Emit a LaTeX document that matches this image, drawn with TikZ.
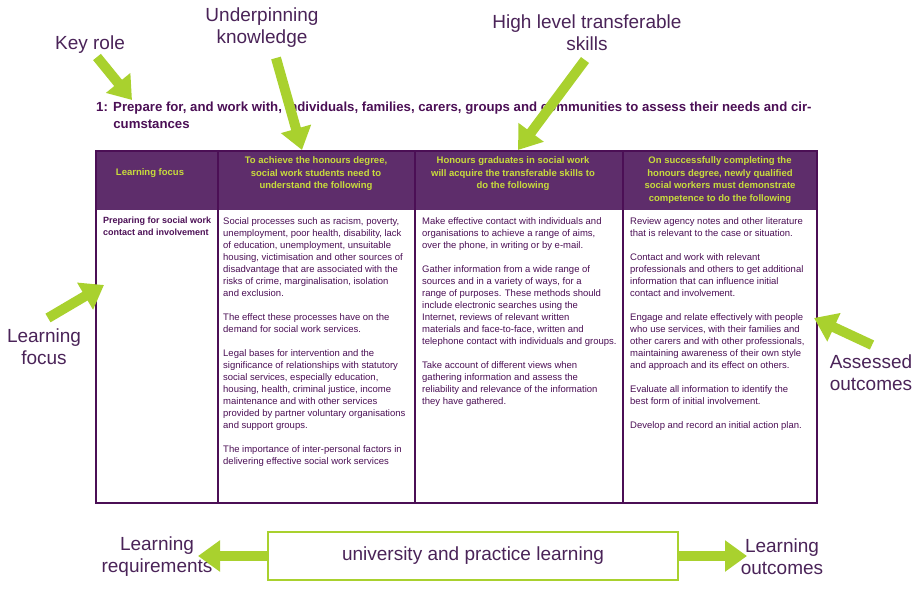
\documentclass[tikz,border=0pt]{standalone}
\usepackage{fontspec}
\setmainfont{Liberation Sans}
\usetikzlibrary{arrows.meta}
\definecolor{pdark}{HTML}{4B0F55}
\definecolor{phead}{HTML}{5E2D6B}
\definecolor{ytxt}{HTML}{C8DC3C}
\definecolor{garrow}{HTML}{A9D12E}
\definecolor{lbl}{HTML}{4A2358}
\begin{document}
\begin{tikzpicture}[x=1pt,y=-1pt,
  lab/.style={text=lbl,font=\fontsize{19}{22}\selectfont,align=center,inner sep=0},
  body/.style={anchor=north west,text=pdark,font=\fontsize{9.5}{12}\selectfont,align=left,inner sep=0},
  head/.style={text=ytxt,font=\bfseries\fontsize{9.5}{12.5}\selectfont,align=center,inner sep=0},
  garr/.style={garrow,line width=10,-{Triangle[length=22,width=30]}}]
\useasboundingbox (0,0) rectangle (919,589);
% table
\fill[phead] (96,151) rectangle (817,210);
\draw[pdark,line width=1.6] (96,151) rectangle (817,503);
\foreach \x in {218,415,623} \draw[pdark,line width=1.6] (\x,151) -- (\x,503);
\node[head] (h1) at (150,173) {Learning focus};
\node[head] (h2) at (316,174) {To achieve the honours degree,\\social work students need to\\understand the following};
\node[head] (h3) at (513,174) {Honours graduates in social work\\will acquire the transferable skills to\\do the following};
\node[head] (h4) at (720,180) {On successfully completing the\\honours degree, newly qualified\\social workers must demonstrate\\competence to do the following};
\node[body,font=\bfseries\fontsize{9}{12}\selectfont] (c1) at (103,217) {Preparing for social work\\contact and involvement};
\node[body] (c2) at (223,217) {Social processes such as racism, poverty,\\unemployment, poor health, disability, lack\\of education, unemployment, unsuitable\\housing, victimisation and other sources of\\disadvantage that are associated with the\\risks of crime, marginalisation, isolation\\and exclusion.\\[12pt]The effect these processes have on the\\demand for social work services.\\[12pt]Legal bases for intervention and the\\significance of relationships with statutory\\social services, especially education,\\housing, health, criminal justice, income\\maintenance and with other services\\provided by partner voluntary organisations\\and support groups.\\[12pt]The importance of inter-personal factors in\\delivering effective social work services};
\node[body] (c3) at (422,217) {Make effective contact with individuals and\\organisations to achieve a range of aims,\\over the phone, in writing or by e-mail.\\[12pt]Gather information from a wide range of\\sources and in a variety of ways, for a\\range of purposes. These methods should\\include electronic searches using the\\Internet, reviews of relevant written\\materials and face-to-face, written and\\telephone contact with individuals and groups.\\[12pt]Take account of different views when\\gathering information and assess the\\reliability and relevance of the information\\they have gathered.};
\node[body] (c4) at (630,217) {Review agency notes and other literature\\that is relevant to the case or situation.\\[12pt]Contact and work with relevant\\professionals and others to get additional\\information that can influence initial\\contact and involvement.\\[12pt]Engage and relate effectively with people\\who use services, with their families and\\other carers and with other professionals,\\maintaining awareness of their own style\\and approach and its effect on others.\\[12pt]Evaluate all information to identify the\\best form of initial involvement.\\[12pt]Develop and record an initial action plan.};
% title
\node[anchor=north west,text=pdark,font=\bfseries\fontsize{13.2}{17}\selectfont,align=left,inner sep=0] (title) at (96,102) {1:\hspace{0.4em}Prepare for, and work with, individuals, families, carers, groups and communities to assess their needs and cir-\\\hspace{1.3em}cumstances};
% labels
\node[lab] (kr) at (90,45) {Key role};
\node[lab] (uk) at (262,28) {Underpinning\\knowledge};
\node[lab] (hl) at (587,33) {High level transferable\\skills};
\node[lab] (lf) at (44,347) {Learning\\focus};
\node[lab] (ao) at (871,373) {Assessed\\outcomes};
\node[lab] (lr) at (157,557) {Learning\\requirements};
\node[lab] (lo) at (782,557) {Learning\\outcomes};
\node[draw=garrow,line width=1.5,minimum width=410,minimum height=48,text=lbl,font=\fontsize{19}{22}\selectfont] (box) at (473,556) {university and practice learning};
% arrow anchors
\coordinate (a1s) at (97,57); \coordinate (a1e) at (132,100);
\coordinate (a2s) at (276,58); \coordinate (a2e) at (302,150);
\coordinate (a3s) at (585,60); \coordinate (a3e) at (518,150);
\coordinate (a4s) at (48,318); \coordinate (a4e) at (104,285);
\coordinate (a5s) at (872,345); \coordinate (a5e) at (814,318);
\coordinate (a6e) at (198,556); \coordinate (a7e) at (747,556);
\draw[garr] (a1s) -- (a1e);
\draw[garr] (a2s) -- (a2e);
\draw[garr] (a3s) -- (a3e);
\draw[garr] (a4s) -- (a4e);
\draw[garr] (a5s) -- (a5e);
\draw[garr] (box.west) -- (a6e);
\draw[garr] (box.east) -- (a7e);
\end{tikzpicture}
\end{document}
